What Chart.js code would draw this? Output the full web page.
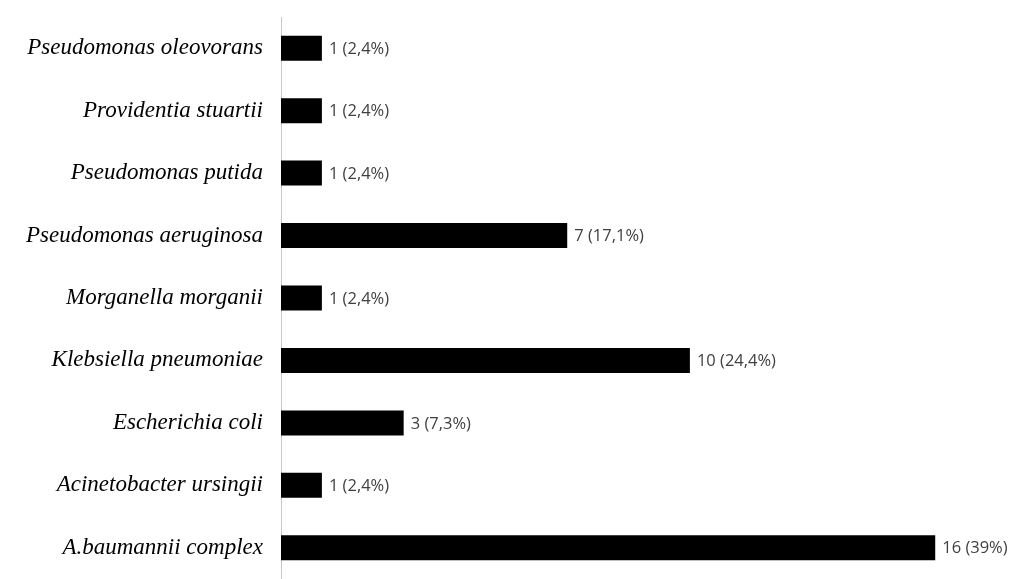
<!DOCTYPE html>
<html>
<head>
<meta charset="utf-8">
<script src="https://cdn.jsdelivr.net/npm/chart.js@4.4.1/dist/chart.umd.min.js"></script>
<style>
  html, body { margin: 0; padding: 0; background: #fff; overflow: hidden; }
</style>
</head>
<body>
<canvas id="chart" width="1024" height="579"></canvas>
<script>
// Species, top to bottom as in the figure
const species = [
  'Pseudomonas oleovorans',
  'Providentia stuartii',
  'Pseudomonas putida',
  'Pseudomonas aeruginosa',
  'Morganella morganii',
  'Klebsiella pneumoniae',
  'Escherichia coli',
  'Acinetobacter ursingii',
  'A.baumannii complex'
];
const counts = [1, 1, 1, 7, 1, 10, 3, 1, 16];
const percents = ['2,4%', '2,4%', '2,4%', '17,1%', '2,4%', '24,4%', '7,3%', '2,4%', '39%'];

// draws "n (p%)" just past the end of each bar
const valueLabels = {
  id: 'valueLabels',
  afterDatasetsDraw(chart) {
    const ctx = chart.ctx;
    const meta = chart.getDatasetMeta(0);
    ctx.save();
    ctx.font = '16.5px "Open Sans", "Liberation Sans", sans-serif';
    ctx.fillStyle = '#404040';
    ctx.textAlign = 'left';
    ctx.textBaseline = 'middle';
    meta.data.forEach((bar, i) => {
      ctx.fillText(counts[i] + ' (' + percents[i] + ')', bar.x + 7, bar.y + 1);
    });
    ctx.restore();
  }
};

new Chart(document.getElementById('chart'), {
  type: 'bar',
  data: {
    labels: species,
    datasets: [{
      data: counts,
      backgroundColor: '#000000',
      borderWidth: 0,
      categoryPercentage: 1,
      barPercentage: 0.4
    }]
  },
  options: {
    indexAxis: 'y',
    responsive: false,
    animation: false,
    layout: { padding: { top: 17, right: 7, bottom: 0, left: 0 } },
    plugins: {
      legend: { display: false },
      tooltip: { enabled: false }
    },
    scales: {
      x: {
        display: false,
        min: 0,
        max: 18
      },
      y: {
        afterFit(scale) {
          scale.width = 281;
          scale.paddingTop = 0;
          scale.paddingBottom = 0;
        },
        grid: { display: false, drawTicks: false },
        border: { display: true, color: '#c8c8c8', width: 1 },
        ticks: {
          padding: 18,
          color: '#000',
          font: { family: '"Liberation Serif", "Times New Roman", serif', style: 'italic', size: 23 }
        }
      }
    }
  },
  plugins: [valueLabels]
});
</script>
</body>
</html>
